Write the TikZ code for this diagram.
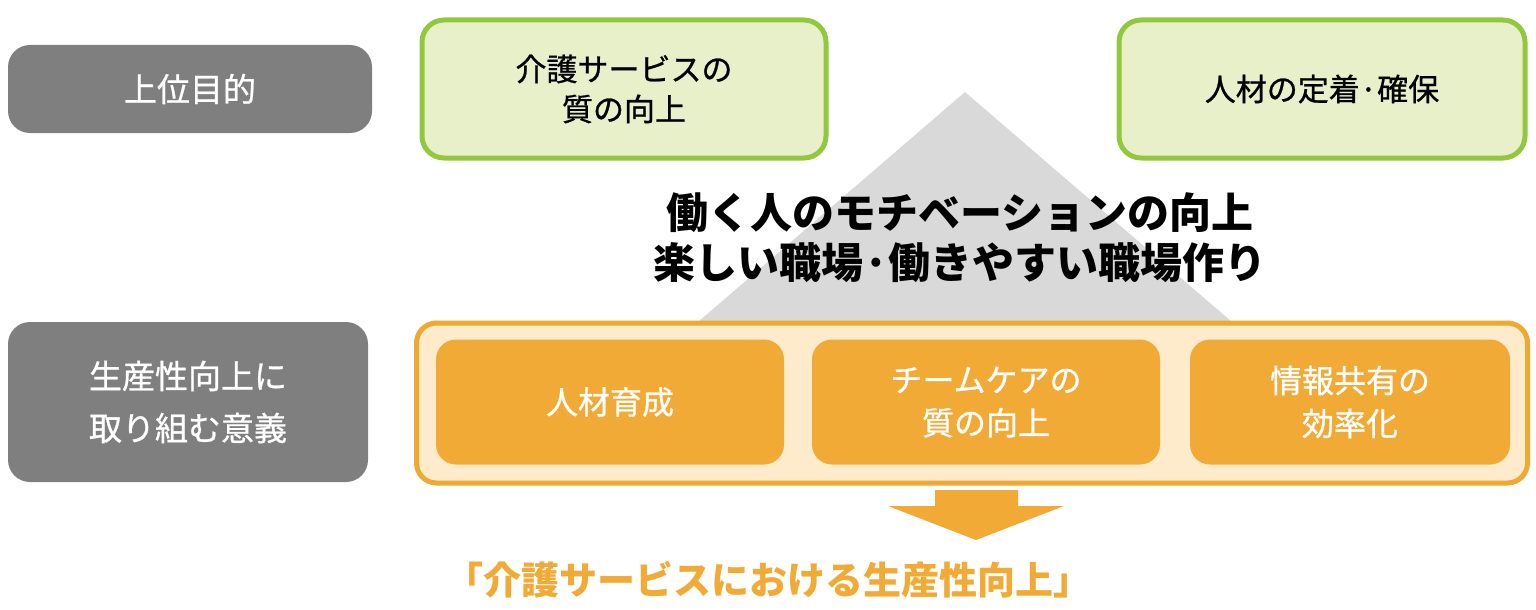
\documentclass[tikz,border=0pt]{standalone}
\usepackage{fontspec}
\setmainfont{Noto Sans CJK JP}
\newfontfamily\medf[FakeBold=0.8]{Noto Sans CJK JP}
\definecolor{gbox}{HTML}{7F7F7F}
\definecolor{grfill}{HTML}{E8F0C9}
\definecolor{grline}{HTML}{92C83E}
\definecolor{orline}{HTML}{F0A930}
\definecolor{orfill}{HTML}{FDEBCB}
\definecolor{orbox}{HTML}{F2AA36}
\definecolor{mount}{HTML}{D9D9D9}
\begin{document}
\begin{tikzpicture}[x=1pt,y=-1pt,
  graybox/.style={fill=gbox,rounded corners=22pt,text=white,font=\medf\fontsize{33}{52}\selectfont,align=center},
  greenbox/.style={fill=grfill,draw=grline,line width=5pt,rounded corners=22pt,font=\medf\fontsize{31}{40}\selectfont,align=center},
  orbx/.style={fill=orbox,rounded corners=20pt,text=white,font=\medf\fontsize{32}{43}\selectfont,align=center}]
\useasboundingbox (0,0) rectangle (1536,610);
\fill[mount] (965,92) -- (1232,322) -- (698,322) -- cycle;
\node[graybox,minimum width=364pt,minimum height=88pt] (g1) at (190,89) {上位目的};
\node[graybox,minimum width=360pt,minimum height=160pt] (g2) at (188,402) {生産性向上に\\取り組む意義};
\node[greenbox,minimum width=404pt,minimum height=138pt] (p1) at (624,89) {介護サービスの\\質の向上};
\node[greenbox,minimum width=406pt,minimum height=138pt] (p2) at (1322,89) {人材の定着·確保};
\node[font=\fontsize{42}{50}\selectfont\bfseries,align=center] (m) at (960,238) {働く人のモチベーションの向上\\楽しい職場·働きやすい職場作り};
\node[fill=orfill,draw=orline,line width=5pt,rounded corners=20pt,minimum width=1111pt,minimum height=160pt] (o) at (972,403) {};
\node[orbx,minimum width=348pt,minimum height=125pt] (a) at (610,402) {人材育成};
\node[orbx,minimum width=348pt,minimum height=125pt] (b) at (986,402) {チームケアの\\質の向上};
\node[orbx,minimum width=320pt,minimum height=125pt] (c) at (1350,402) {情報共有の\\効率化};
\coordinate (t) at (976,540);
\fill[orbox] (935,490) -- (1018,490) -- (1018,506) -- (1064,506) -- (t) -- (888,506) -- (935,506) -- cycle;
\node[text=orbox,font=\fontsize{38}{44}\selectfont\bfseries] (r) at (768,580) {「介護サービスにおける生産性向上」};
\end{tikzpicture}
\end{document}
